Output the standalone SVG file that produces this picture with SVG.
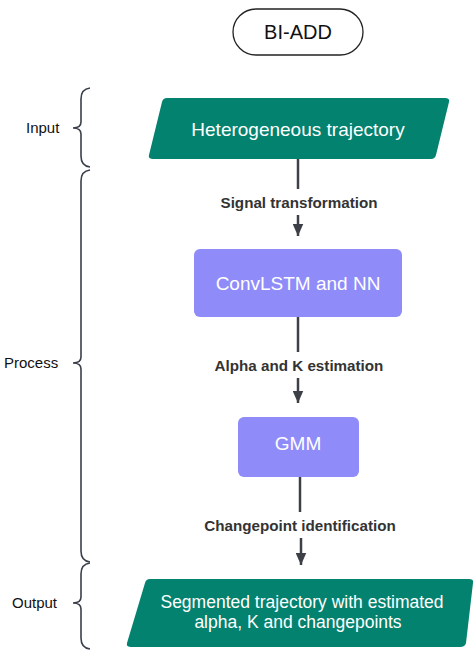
<svg xmlns="http://www.w3.org/2000/svg" width="474" height="654" viewBox="0 0 474 654">
<defs>
<style>
.lbl{font-family:"Liberation Sans",Arial,sans-serif;font-size:15px;fill:#111;}
.node{font-family:"Liberation Sans",Arial,sans-serif;font-size:19px;fill:#fff;text-anchor:middle;}
.node2{font-family:"Liberation Sans",Arial,sans-serif;font-size:17.5px;fill:#fff;text-anchor:middle;}
.edge{font-family:"Liberation Sans",Arial,sans-serif;font-size:15.2px;font-weight:bold;fill:#333;text-anchor:middle;}
.brace{fill:none;stroke:#3a3f4a;stroke-width:1.6;}
.conn{fill:none;stroke:#3d4047;stroke-width:2.5;}
.teal{fill:#03826F;}
.purple{fill:#8F8CFA;}
</style>
<marker id="arr" markerWidth="5" markerHeight="4.4" refX="5" refY="2.2" orient="auto" markerUnits="strokeWidth">
<path d="M0,0 L5,2.2 L0,4.4 Z" fill="#3d4047"/>
</marker>
</defs>
<rect width="474" height="654" fill="#fff"/>
<g id="title">
<rect x="233" y="9" width="130" height="46" rx="23" fill="#fff" stroke="#222" stroke-width="1.3"/>
<text x="298" y="39" style="font-family:'Liberation Sans',Arial,sans-serif;font-size:20px;fill:#111;" text-anchor="middle">BI-ADD</text>
</g>
<g id="braces">
<path class="brace" d="M90,88 Q81,89 81,99 L81,122 Q81,128 73,128 Q81,128 81,134 L81,156 Q81,166 90,167"/>
<path class="brace" d="M90,170 Q81,171 81,181 L81,357 Q81,363 73,363 Q81,363 81,369 L81,551 Q81,561 90,562"/>
<path class="brace" d="M90,563 Q81,564 81,574 L81,597 Q81,603 73,603 Q81,603 81,609 L81,638 Q81,648 90,649"/>
<text class="lbl" x="26" y="133">Input</text>
<text class="lbl" x="4" y="368">Process</text>
<text class="lbl" x="12" y="608">Output</text>
</g>
<g id="connectors">
<path class="conn" d="M298,159 L298,189"/>
<path class="conn" d="M298,215 L298,236" marker-end="url(#arr)"/>
<text class="edge" x="299" y="208">Signal transformation</text>
<path class="conn" d="M298,317 L298,352"/>
<path class="conn" d="M298,378 L298,403" marker-end="url(#arr)"/>
<text class="edge" x="299" y="371">Alpha and K estimation</text>
<path class="conn" d="M300,477 L300,512"/>
<path class="conn" d="M301,538 L301,565" marker-end="url(#arr)"/>
<text class="edge" x="300" y="531">Changepoint identification</text>
</g>
<g id="input">
<path class="teal" d="M167,98 L445,98 Q450,98 449,102 L436,155 Q435,159 431,159 L153,159 Q148,159 149,155 L162,102 Q163,98 167,98 Z"/>
<text class="node" x="298" y="135.5">Heterogeneous trajectory</text>
</g>
<g id="convlstm">
<rect class="purple" x="194" y="249" width="208" height="68" rx="6"/>
<text class="node" x="298" y="289.5">ConvLSTM and NN</text>
</g>
<g id="gmm">
<rect class="purple" x="238" y="417" width="121" height="60" rx="6"/>
<text class="node" x="298" y="450">GMM</text>
</g>
<g id="output">
<path class="teal" d="M150,579 L469,579 Q474,579 473,583 L466,643 Q465,647 460,647 L131,647 Q126,647 127,643 L145,583 Q146,579 150,579 Z"/>
<text class="node2" x="302" y="608">Segmented trajectory with estimated</text>
<text class="node2" x="298" y="628">alpha, K and changepoints</text>
</g>
</svg>
